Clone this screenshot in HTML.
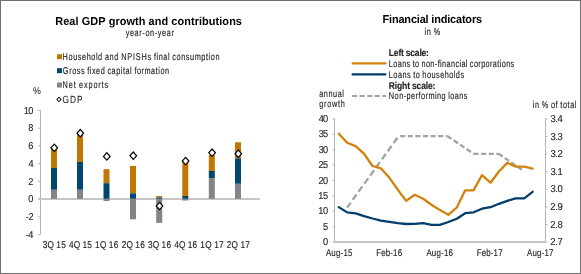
<!DOCTYPE html>
<html><head><meta charset="utf-8"><style>
html,body{margin:0;padding:0;background:#fff;}
svg{display:block;font-family:"Liberation Sans", sans-serif;text-rendering:geometricPrecision;will-change:transform;}
</style></head><body>
<svg width="581" height="274" viewBox="0 0 581 274">

<rect width="581" height="274" fill="#fff"/>
<rect x="0.5" y="0.5" width="580" height="273" fill="none" stroke="#707070" stroke-width="1"/>
<text transform="translate(0 25) scale(0.95 1)" x="58.18 66.55 73.02 79.49 82.75 86.02 95.04 103.41 111.15 114.42 121.52 126.06 133.16 142.18 146.08 153.17 156.44 162.91 170.00 177.10 180.36 186.83 193.93 201.02 204.92 209.47 212.74 219.83 226.93 230.83 234.09 241.19 248.29" y="0" font-size="11.5" font-weight="bold" fill="#000">Real GDP growth and contributions</text>
<text transform="translate(0 35.5) scale(0.74 1)" x="169.84 175.60 181.92 188.24 192.35 196.46 202.77 209.09 213.20 218.96 225.28 231.60" y="0" font-size="9.9" fill="#222" stroke="#222" stroke-width="0.14">year-on-year</text>
<text transform="translate(0 59.7) scale(0.74 1)" x="84.49 92.61 98.87 105.13 110.83 117.09 123.35 129.61 132.57 138.83 141.78 148.04 154.30 160.56 163.73 172.05 179.69 183.47 191.24 199.36 205.07 208.02 211.53 214.48 220.74 227.00 229.96 232.91 238.62 244.88 251.14 256.84 263.10 272.10 278.36 281.87 284.82 291.08" y="0" font-size="9.9" fill="#222" stroke="#222" stroke-width="0.14">Household and NPISHs final consumption</text>
<rect x="57" y="54.2" width="5" height="5" fill="#C07600"/>
<text transform="translate(0 73.7) scale(0.74 1)" x="84.84 93.47 97.47 103.67 109.32 114.97 117.88 121.33 124.23 129.88 136.08 142.29 145.19 150.84 157.05 163.25 166.15 169.60 175.81 178.71 181.61 185.06 191.27 195.26 204.21 210.42 213.87 216.77 222.97" y="0" font-size="9.9" fill="#222" stroke="#222" stroke-width="0.14">Gross fixed capital formation</text>
<rect x="57" y="68.2" width="5" height="5" fill="#00466F"/>
<text transform="translate(0 88.0) scale(0.74 1)" x="84.49 92.99 99.64 103.53 106.87 113.51 119.60 126.25 132.89 137.33 141.22" y="0" font-size="9.9" fill="#222" stroke="#222" stroke-width="0.14">Net exports</text>
<rect x="57" y="82.5" width="5" height="5" fill="#848389"/>
<text transform="translate(0 103.1) scale(0.8 1)" x="78.23 87.46 96.11" y="0" font-size="10.4" fill="#222" stroke="#222" stroke-width="0.06">GDP</text>
<path d="M59 96.6 L61.8 99.4 L59 102.2 L56.2 99.4 Z" fill="#111"/><path d="M59 97.9 L60.5 99.4 L59 100.9 L57.5 99.4 Z" fill="#fff"/>
<text transform="translate(0 94.4) scale(0.9 1)" x="36.65" y="0" font-size="9.8" fill="#222" stroke="#222" stroke-width="0.05">%</text>
<line x1="40.5" y1="110.2" x2="40.5" y2="234.2" stroke="#B4B4B4" stroke-width="1"/>
<line x1="38" y1="110.5" x2="40.5" y2="110.5" stroke="#B4B4B4" stroke-width="1"/>
<text transform="translate(0 113.70000000000002) scale(0.92 1)" x="25.87 30.81" y="0" font-size="10" fill="#222" stroke="#222" stroke-width="0.12">10</text>
<line x1="38" y1="128.2" x2="40.5" y2="128.2" stroke="#B4B4B4" stroke-width="1"/>
<text transform="translate(0 131.42000000000002) scale(0.92 1)" x="30.76" y="0" font-size="10" fill="#222" stroke="#222" stroke-width="0.12">8</text>
<line x1="38" y1="145.9" x2="40.5" y2="145.9" stroke="#B4B4B4" stroke-width="1"/>
<text transform="translate(0 149.14000000000001) scale(0.92 1)" x="30.69" y="0" font-size="10" fill="#222" stroke="#222" stroke-width="0.12">6</text>
<line x1="38" y1="163.7" x2="40.5" y2="163.7" stroke="#B4B4B4" stroke-width="1"/>
<text transform="translate(0 166.86) scale(0.92 1)" x="30.97" y="0" font-size="10" fill="#222" stroke="#222" stroke-width="0.12">4</text>
<line x1="38" y1="181.4" x2="40.5" y2="181.4" stroke="#B4B4B4" stroke-width="1"/>
<text transform="translate(0 184.58) scale(0.92 1)" x="30.69" y="0" font-size="10" fill="#222" stroke="#222" stroke-width="0.12">2</text>
<line x1="38" y1="199.1" x2="40.5" y2="199.1" stroke="#B4B4B4" stroke-width="1"/>
<text transform="translate(0 202.3) scale(0.92 1)" x="30.81" y="0" font-size="10" fill="#222" stroke="#222" stroke-width="0.12">0</text>
<line x1="38" y1="216.8" x2="40.5" y2="216.8" stroke="#B4B4B4" stroke-width="1"/>
<text transform="translate(0 220.02) scale(0.92 1)" x="27.93 30.92" y="0" font-size="10" fill="#222" stroke="#222" stroke-width="0.12">-2</text>
<line x1="38" y1="234.5" x2="40.5" y2="234.5" stroke="#B4B4B4" stroke-width="1"/>
<text transform="translate(0 237.74) scale(0.92 1)" x="27.93 30.71" y="0" font-size="10" fill="#222" stroke="#222" stroke-width="0.12">-4</text>
<line x1="38" y1="199" x2="260" y2="199" stroke="#C6C6C6" stroke-width="2"/>
<rect x="51" y="148" width="6" height="19.90" fill="#C07600"/>
<rect x="51" y="167.9" width="6" height="21.90" fill="#00466F"/>
<rect x="51" y="189.8" width="6" height="9.00" fill="#848389"/>
<rect x="77" y="133.5" width="6" height="28.50" fill="#C07600"/>
<rect x="77" y="162" width="6" height="27.80" fill="#00466F"/>
<rect x="77" y="189.8" width="6" height="9.00" fill="#848389"/>
<rect x="103.5" y="169.2" width="6" height="14.00" fill="#C07600"/>
<rect x="103.5" y="183.2" width="6" height="15.60" fill="#00466F"/>
<rect x="103.5" y="198.8" width="6" height="2.20" fill="#848389"/>
<rect x="130" y="165.9" width="6" height="27.40" fill="#C07600"/>
<rect x="130" y="193.3" width="6" height="5.50" fill="#00466F"/>
<rect x="130" y="198.8" width="6" height="20.50" fill="#848389"/>
<rect x="156.2" y="196" width="6" height="1.50" fill="#C07600"/>
<rect x="156.2" y="197.5" width="6" height="1.30" fill="#00466F"/>
<rect x="156.2" y="198.8" width="6" height="24.10" fill="#848389"/>
<rect x="182.3" y="162" width="6" height="34.00" fill="#C07600"/>
<rect x="182.3" y="196" width="6" height="2.80" fill="#00466F"/>
<rect x="182.3" y="198.8" width="6" height="1.70" fill="#848389"/>
<rect x="208.8" y="155" width="6" height="16.00" fill="#C07600"/>
<rect x="208.8" y="171" width="6" height="7.10" fill="#00466F"/>
<rect x="208.8" y="178.1" width="6" height="20.70" fill="#848389"/>
<rect x="235" y="142.3" width="6" height="16.10" fill="#C07600"/>
<rect x="235" y="158.4" width="6" height="25.40" fill="#00466F"/>
<rect x="235" y="183.8" width="6" height="15.00" fill="#848389"/>
<path d="M54.3 143.20000000000002 L58.4 147.8 L54.3 152.4 L50.199999999999996 147.8 Z" fill="#000"/><path d="M54.3 145.0 L56.8 147.8 L54.3 150.60000000000002 L51.8 147.8 Z" fill="#fff"/>
<text transform="translate(0 248) scale(0.84 1)" x="50.93 56.70 64.66 67.12 72.89" y="0" font-size="9.9" fill="#222" stroke="#222" stroke-width="0.13">3Q 15</text>
<path d="M80.3 128.6 L84.39999999999999 133.2 L80.3 137.79999999999998 L76.2 133.2 Z" fill="#000"/><path d="M80.3 130.39999999999998 L82.8 133.2 L80.3 136.0 L77.8 133.2 Z" fill="#fff"/>
<text transform="translate(0 248) scale(0.84 1)" x="82.03 87.76 95.69 98.11 103.84" y="0" font-size="9.9" fill="#222" stroke="#222" stroke-width="0.13">4Q 15</text>
<path d="M106.8 151.8 L110.89999999999999 156.4 L106.8 161.0 L102.7 156.4 Z" fill="#000"/><path d="M106.8 153.6 L109.3 156.4 L106.8 159.20000000000002 L104.3 156.4 Z" fill="#fff"/>
<text transform="translate(0 248) scale(0.84 1)" x="113.06 118.92 126.98 129.54 135.41" y="0" font-size="9.9" fill="#222" stroke="#222" stroke-width="0.13">1Q 16</text>
<path d="M133.3 151.1 L137.4 155.7 L133.3 160.29999999999998 L129.20000000000002 155.7 Z" fill="#000"/><path d="M133.3 152.89999999999998 L135.8 155.7 L133.3 158.5 L130.8 155.7 Z" fill="#fff"/>
<text transform="translate(0 248) scale(0.84 1)" x="144.86 150.66 158.66 161.15 166.95" y="0" font-size="9.9" fill="#222" stroke="#222" stroke-width="0.13">2Q 16</text>
<path d="M159.5 201.4 L163.6 206 L159.5 210.6 L155.4 206 Z" fill="#000"/><path d="M159.5 203.2 L162.0 206 L159.5 208.8 L157.0 206 Z" fill="#fff"/>
<text transform="translate(0 248) scale(0.84 1)" x="176.17 181.94 189.91 192.37 198.14" y="0" font-size="9.9" fill="#222" stroke="#222" stroke-width="0.13">3Q 16</text>
<path d="M185.60000000000002 156.5 L189.70000000000002 161.1 L185.60000000000002 165.7 L181.50000000000003 161.1 Z" fill="#000"/><path d="M185.60000000000002 158.29999999999998 L188.10000000000002 161.1 L185.60000000000002 163.9 L183.10000000000002 161.1 Z" fill="#fff"/>
<text transform="translate(0 248) scale(0.84 1)" x="207.39 213.13 221.05 223.48 229.21" y="0" font-size="9.9" fill="#222" stroke="#222" stroke-width="0.13">4Q 16</text>
<path d="M212.10000000000002 148.1 L216.20000000000002 152.7 L212.10000000000002 157.29999999999998 L208.00000000000003 152.7 Z" fill="#000"/><path d="M212.10000000000002 149.89999999999998 L214.60000000000002 152.7 L212.10000000000002 155.5 L209.60000000000002 152.7 Z" fill="#fff"/>
<text transform="translate(0 248) scale(0.84 1)" x="238.41 244.29 252.37 254.94 260.83" y="0" font-size="9.9" fill="#222" stroke="#222" stroke-width="0.13">1Q 17</text>
<path d="M238.3 149.20000000000002 L242.4 153.8 L238.3 158.4 L234.20000000000002 153.8 Z" fill="#000"/><path d="M238.3 151.0 L240.8 153.8 L238.3 156.60000000000002 L235.8 153.8 Z" fill="#fff"/>
<text transform="translate(0 248) scale(0.84 1)" x="269.86 275.68 283.69 286.20 292.02" y="0" font-size="9.9" fill="#222" stroke="#222" stroke-width="0.13">2Q 17</text>
<text transform="translate(0 23.1) scale(0.95 1)" x="402.70 409.56 412.58 419.43 425.65 432.51 438.73 441.75 447.97 451.00 454.02 457.04 463.89 470.74 473.77 479.99 486.21 489.87 496.72 501.02" y="0" font-size="11.5" font-weight="bold" fill="#000">Financial indicators</text>
<text transform="translate(0 34.7) scale(0.74 1)" x="573.66 576.72 583.09 586.14" y="0" font-size="9.9" fill="#222" stroke="#222" stroke-width="0.14">in %</text>
<text transform="translate(0 55.7) scale(0.86 1)" x="452.01 457.97 463.24 466.30 469.36 471.87 477.13 482.40 487.67 490.18 495.45" y="0" font-size="9.9" font-weight="bold" fill="#222" stroke="#222" stroke-width="0.13">Left scale:</text>
<text transform="translate(0 66.6) scale(0.74 1)" x="525.25 531.42 537.43 543.44 549.45 554.90 557.61 560.86 566.87 569.57 575.58 581.59 587.60 591.40 594.65 597.35 603.36 609.37 615.38 620.83 623.53 629.54 632.24 634.94 640.40 646.41 650.20 656.21 662.22 666.02 672.03 675.28 677.99 683.99 690.00" y="0" font-size="9.9" fill="#222" stroke="#222" stroke-width="0.14">Loans to non-financial corporations</text>
<text transform="translate(0 77.6) scale(0.74 1)" x="525.25 531.56 537.70 543.84 549.98 555.56 558.40 561.78 567.92 570.76 576.90 583.04 589.18 594.77 600.91 607.05 613.19 616.02 622.16" y="0" font-size="9.9" fill="#222" stroke="#222" stroke-width="0.14">Loans to households</text>
<text transform="translate(0 88.5) scale(0.86 1)" x="452.04 459.17 461.73 467.58 473.43 476.54 479.09 484.40 489.71 495.02 497.58 502.89" y="0" font-size="9.9" font-weight="bold" fill="#222" stroke="#222" stroke-width="0.13">Right scale:</text>
<text transform="translate(0 99.2) scale(0.74 1)" x="525.30 533.27 539.39 545.50 549.40 555.52 561.63 565.54 568.89 575.01 578.91 587.77 590.57 596.69 602.80 605.61 608.42 614.53 620.65 626.76" y="0" font-size="9.9" fill="#222" stroke="#222" stroke-width="0.14">Non-performing loans</text>
<line x1="352.6" y1="63.4" x2="385.4" y2="63.4" stroke="#D2820B" stroke-width="2.2" stroke-linecap="round"/>
<line x1="352.6" y1="74.4" x2="385.4" y2="74.4" stroke="#023D6B" stroke-width="2.2" stroke-linecap="round"/>
<line x1="352" y1="96" x2="386" y2="96" stroke="#A2A2A2" stroke-width="2.2" stroke-dasharray="5 2.6"/>
<text transform="translate(0 97.2) scale(0.74 1)" x="431.34 437.57 443.81 450.04 456.28 462.52" y="0" font-size="9.9" fill="#222" stroke="#222" stroke-width="0.14">annual</text>
<text transform="translate(0 106.9) scale(0.74 1)" x="431.34 437.82 442.09 448.56 456.69 460.41" y="0" font-size="9.9" fill="#222" stroke="#222" stroke-width="0.14">growth</text>
<text transform="translate(0 108.1) scale(0.74 1)" x="720.01 722.95 729.19 732.12 741.66 744.59 750.84 754.32 757.26 760.74 766.98 770.47 776.71" y="0" font-size="9.9" fill="#222" stroke="#222" stroke-width="0.14">in % of total</text>
<line x1="334.5" y1="118.4" x2="334.5" y2="241.6" stroke="#B4B4B4" stroke-width="1"/>
<line x1="545.5" y1="118.4" x2="545.5" y2="241.6" stroke="#B4B4B4" stroke-width="1"/>
<line x1="334" y1="242" x2="546" y2="242" stroke="#C6C6C6" stroke-width="2"/>
<line x1="332.5" y1="242.1" x2="334.5" y2="242.1" stroke="#B4B4B4" stroke-width="1"/>
<text transform="translate(0 245.2) scale(0.92 1)" x="351.02" y="0" font-size="10" fill="#222" stroke="#222" stroke-width="0.12">0</text>
<line x1="332.5" y1="226.7" x2="334.5" y2="226.7" stroke="#B4B4B4" stroke-width="1"/>
<text transform="translate(0 229.79999999999998) scale(0.92 1)" x="351.01" y="0" font-size="10" fill="#222" stroke="#222" stroke-width="0.12">5</text>
<line x1="332.5" y1="211.3" x2="334.5" y2="211.3" stroke="#B4B4B4" stroke-width="1"/>
<text transform="translate(0 214.4) scale(0.92 1)" x="345.98 351.02" y="0" font-size="10" fill="#222" stroke="#222" stroke-width="0.12">10</text>
<line x1="332.5" y1="195.9" x2="334.5" y2="195.9" stroke="#B4B4B4" stroke-width="1"/>
<text transform="translate(0 199.0) scale(0.92 1)" x="345.98 351.05" y="0" font-size="10" fill="#222" stroke="#222" stroke-width="0.12">15</text>
<line x1="332.5" y1="180.5" x2="334.5" y2="180.5" stroke="#B4B4B4" stroke-width="1"/>
<text transform="translate(0 183.6) scale(0.92 1)" x="346.24 351.02" y="0" font-size="10" fill="#222" stroke="#222" stroke-width="0.12">20</text>
<line x1="332.5" y1="165.1" x2="334.5" y2="165.1" stroke="#B4B4B4" stroke-width="1"/>
<text transform="translate(0 168.2) scale(0.92 1)" x="346.24 351.05" y="0" font-size="10" fill="#222" stroke="#222" stroke-width="0.12">25</text>
<line x1="332.5" y1="149.7" x2="334.5" y2="149.7" stroke="#B4B4B4" stroke-width="1"/>
<text transform="translate(0 152.79999999999998) scale(0.92 1)" x="346.36 351.02" y="0" font-size="10" fill="#222" stroke="#222" stroke-width="0.12">30</text>
<line x1="332.5" y1="134.3" x2="334.5" y2="134.3" stroke="#B4B4B4" stroke-width="1"/>
<text transform="translate(0 137.4) scale(0.92 1)" x="346.36 351.05" y="0" font-size="10" fill="#222" stroke="#222" stroke-width="0.12">35</text>
<line x1="332.5" y1="118.9" x2="334.5" y2="118.9" stroke="#B4B4B4" stroke-width="1"/>
<text transform="translate(0 122.0) scale(0.92 1)" x="346.51 351.02" y="0" font-size="10" fill="#222" stroke="#222" stroke-width="0.12">40</text>
<line x1="545.5" y1="242.1" x2="547.5" y2="242.1" stroke="#B4B4B4" stroke-width="1"/>
<text transform="translate(0 245.2) scale(0.95 1)" x="579.29 584.51 586.94" y="0" font-size="10" fill="#222" stroke="#222" stroke-width="0.12">2.7</text>
<line x1="545.5" y1="224.5" x2="547.5" y2="224.5" stroke="#B4B4B4" stroke-width="1"/>
<text transform="translate(0 227.6) scale(0.95 1)" x="579.29 584.47 586.87" y="0" font-size="10" fill="#222" stroke="#222" stroke-width="0.12">2.8</text>
<line x1="545.5" y1="206.9" x2="547.5" y2="206.9" stroke="#B4B4B4" stroke-width="1"/>
<text transform="translate(0 210.0) scale(0.95 1)" x="579.29 584.49 586.91" y="0" font-size="10" fill="#222" stroke="#222" stroke-width="0.12">2.9</text>
<line x1="545.5" y1="189.3" x2="547.5" y2="189.3" stroke="#B4B4B4" stroke-width="1"/>
<text transform="translate(0 192.4) scale(0.95 1)" x="579.41 584.51 586.83" y="0" font-size="10" fill="#222" stroke="#222" stroke-width="0.12">3.0</text>
<line x1="545.5" y1="171.7" x2="547.5" y2="171.7" stroke="#B4B4B4" stroke-width="1"/>
<text transform="translate(0 174.79999999999998) scale(0.95 1)" x="579.41 584.56 586.93" y="0" font-size="10" fill="#222" stroke="#222" stroke-width="0.12">3.1</text>
<line x1="545.5" y1="154.1" x2="547.5" y2="154.1" stroke="#B4B4B4" stroke-width="1"/>
<text transform="translate(0 157.2) scale(0.95 1)" x="579.41 584.57 586.94" y="0" font-size="10" fill="#222" stroke="#222" stroke-width="0.12">3.2</text>
<line x1="545.5" y1="136.5" x2="547.5" y2="136.5" stroke="#B4B4B4" stroke-width="1"/>
<text transform="translate(0 139.6) scale(0.95 1)" x="579.41 584.53 586.88" y="0" font-size="10" fill="#222" stroke="#222" stroke-width="0.12">3.3</text>
<line x1="545.5" y1="118.9" x2="547.5" y2="118.9" stroke="#B4B4B4" stroke-width="1"/>
<text transform="translate(0 122.00000000000001) scale(0.95 1)" x="579.41 584.46 586.73" y="0" font-size="10" fill="#222" stroke="#222" stroke-width="0.12">3.4</text>
<text transform="translate(0 255.5) scale(0.8 1)" x="407.36 414.21 419.97 425.73 429.28 435.03" y="0" font-size="9.9" fill="#222" stroke="#222" stroke-width="0.13">Aug-15</text>
<text transform="translate(0 255.5) scale(0.8 1)" x="470.19 476.44 482.14 487.85 491.35 497.05" y="0" font-size="9.9" fill="#222" stroke="#222" stroke-width="0.13">Feb-16</text>
<text transform="translate(0 255.5) scale(0.8 1)" x="532.98 539.84 545.60 551.36 554.92 560.68" y="0" font-size="9.9" fill="#222" stroke="#222" stroke-width="0.13">Aug-16</text>
<text transform="translate(0 255.5) scale(0.8 1)" x="595.81 602.07 607.79 613.51 617.02 622.74" y="0" font-size="9.9" fill="#222" stroke="#222" stroke-width="0.13">Feb-17</text>
<text transform="translate(0 255.5) scale(0.8 1)" x="658.61 665.48 671.25 677.03 680.59 686.37" y="0" font-size="9.9" fill="#222" stroke="#222" stroke-width="0.13">Aug-17</text>
<line x1="347.1" y1="207.6" x2="398.6" y2="136.2" stroke="#A2A2A2" stroke-width="2.3" stroke-dasharray="6.6 3.4" stroke-dashoffset="0.5"/>
<line x1="398.6" y1="136.2" x2="447.6" y2="136.2" stroke="#A2A2A2" stroke-width="2.3" stroke-dasharray="5.0 2.6" stroke-dashoffset="-1.6"/>
<line x1="447.6" y1="136.2" x2="473.6" y2="153.8" stroke="#A2A2A2" stroke-width="2.3" stroke-dasharray="5.2 2.6" stroke-dashoffset="0.5"/>
<line x1="473.6" y1="153.8" x2="498.8" y2="153.8" stroke="#A2A2A2" stroke-width="2.3" stroke-dasharray="5.0 2.6" stroke-dashoffset="0.0"/>
<line x1="498.8" y1="153.8" x2="524.2" y2="171.4" stroke="#A2A2A2" stroke-width="2.3" stroke-dasharray="5.2 2.6" stroke-dashoffset="0.5"/>
<polyline points="338.8,207.1 347.2,212.4 355.7,213.4 364.1,216.2 372.5,218.5 380.9,220.6 389.4,221.9 397.8,223.2 406.2,224.0 414.6,223.8 423.1,223.2 431.5,224.9 439.9,224.9 448.3,222.0 456.8,218.7 465.2,213.2 473.6,212.3 482.0,208.7 490.5,207.2 498.9,203.8 507.3,200.8 515.7,198.3 524.2,198.3 532.6,191.8" fill="none" stroke="#023D6B" stroke-width="2.3" stroke-linejoin="round" stroke-linecap="round"/>
<polyline points="338.8,133.8 347.2,142.8 355.7,146.1 364.1,153.8 372.5,166.0 380.9,168.3 389.4,177.8 397.8,189.7 406.2,200.9 414.6,194.8 423.1,198.8 431.5,204.8 439.9,210.1 448.3,214.8 456.8,207.5 465.2,190.3 473.6,190.3 482.0,175.1 490.5,182.7 498.9,171.5 507.3,162.9 515.7,166.6 524.2,166.6 532.6,168.7" fill="none" stroke="#D2820B" stroke-width="2.3" stroke-linejoin="round" stroke-linecap="round"/>
</svg>
</body></html>
